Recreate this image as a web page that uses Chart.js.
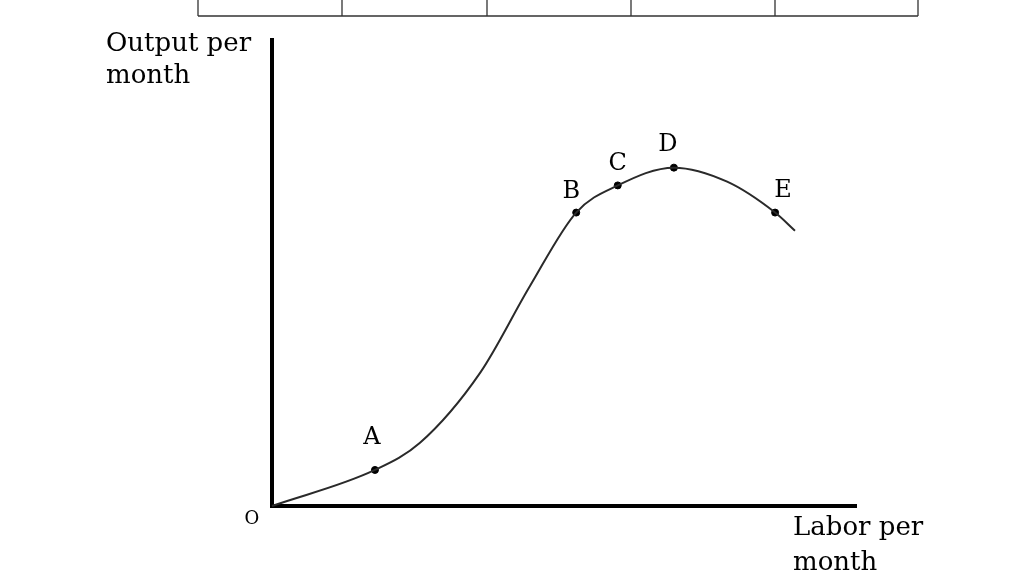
<!DOCTYPE html>
<html>
<head>
<meta charset="utf-8">
<script src="https://cdn.jsdelivr.net/npm/chart.js@4.4.0/dist/chart.umd.min.js"></script>
<style>
  html, body { margin: 0; padding: 0; background: #fff; }
  #wrap { width: 1024px; height: 579px; position: relative; }
</style>
</head>
<body>
<div id="wrap"><canvas id="prodChart" width="1024" height="579"></canvas></div>
<script>
// total product curve (labor on x, output on y), arbitrary units 0..100
const curveX = [0, 17.6, 25.3, 35.6, 44.1, 52.0, 59.1, 68.7, 77.8, 86.0, 89.4];
const curveY = [0, 7.7, 13.5, 28.5, 47.0, 62.7, 68.5, 72.3, 69.3, 62.7, 58.8];

// labelled points on the curve
const pointNames = ['A', 'B', 'C', 'D', 'E'];
const pointX = [17.6, 52.0, 59.1, 68.7, 86.0];
const pointY = [7.7, 62.7, 68.5, 72.3, 62.7];

const yTitle = ['Output per', 'month'];
const xTitle = ['Labor per', 'month'];
const originLabel = 'O';

const SERIF = '"DejaVu Serif", "Liberation Serif", serif';

// little nudges so the letters sit where the original has them
const labelNudge = {
    A: [-3, -26],
    B: [-5, -15],
    C: [0, -15],
    D: [-6, -17],
    E: [8, -16]
};

const diagramPlugin = {
    id: 'diagram',
    beforeDatasetsDraw(chart) {
        const ctx = chart.ctx;
        const x = chart.scales.x;
        const y = chart.scales.y;
        ctx.save();

        // piece of the table above the graph
        ctx.strokeStyle = '#333';
        ctx.lineWidth = 1.3;
        ctx.beginPath();
        [198, 342, 487, 631, 775, 918].forEach(px => {
            ctx.moveTo(px, 0);
            ctx.lineTo(px, 16);
        });
        ctx.moveTo(198, 16);
        ctx.lineTo(918, 16);
        ctx.stroke();

        // axes
        ctx.strokeStyle = '#000';
        ctx.lineWidth = 4;
        ctx.beginPath();
        ctx.moveTo(x.getPixelForValue(0), y.getPixelForValue(100));
        ctx.lineTo(x.getPixelForValue(0), y.getPixelForValue(0) + 2);
        ctx.moveTo(x.getPixelForValue(0) - 2, y.getPixelForValue(0));
        ctx.lineTo(x.getPixelForValue(100), y.getPixelForValue(0));
        ctx.stroke();
        ctx.restore();
    },
    afterDatasetsDraw(chart) {
        const ctx = chart.ctx;
        const x = chart.scales.x;
        const y = chart.scales.y;
        ctx.save();
        ctx.fillStyle = '#000';

        ctx.font = '24px ' + SERIF;
        ctx.textAlign = 'center';
        ctx.textBaseline = 'alphabetic';
        pointNames.forEach((name, i) => {
            const n = labelNudge[name] || [0, -16];
            ctx.fillText(name, x.getPixelForValue(pointX[i]) + n[0], y.getPixelForValue(pointY[i]) + n[1]);
        });

        ctx.font = '18px ' + SERIF;
        ctx.fillText(originLabel, x.getPixelForValue(0) - 20, y.getPixelForValue(0) + 18);

        ctx.font = '26px ' + SERIF;
        ctx.textAlign = 'left';
        ctx.fillText(yTitle[0], 106, 51);
        ctx.fillText(yTitle[1], 106, 83);
        ctx.fillText(xTitle[0], 793, 535);
        ctx.fillText(xTitle[1], 793, 570);
        ctx.restore();
    }
};

new Chart(document.getElementById('prodChart'), {
    type: 'scatter',
    data: {
        datasets: [{
            label: 'Total product',
            data: curveX.map((v, i) => ({ x: v, y: curveY[i] })),
            showLine: true,
            borderColor: '#2a2a2a',
            borderWidth: 2,
            pointRadius: 0,
            cubicInterpolationMode: 'monotone',
            clip: false
        }, {
            label: 'Points',
            data: pointX.map((v, i) => ({ x: v, y: pointY[i] })),
            showLine: false,
            backgroundColor: '#000',
            borderColor: '#000',
            pointRadius: 3.5,
            clip: false
        }]
    },
    options: {
        responsive: false,
        animation: false,
        events: [],
        layout: { padding: { left: 272, right: 167, top: 38, bottom: 73 } },
        plugins: {
            legend: { display: false },
            tooltip: { enabled: false }
        },
        scales: {
            x: { type: 'linear', min: 0, max: 100, display: false },
            y: { type: 'linear', min: 0, max: 100, display: false }
        }
    },
    plugins: [diagramPlugin]
});
</script>
</body>
</html>
